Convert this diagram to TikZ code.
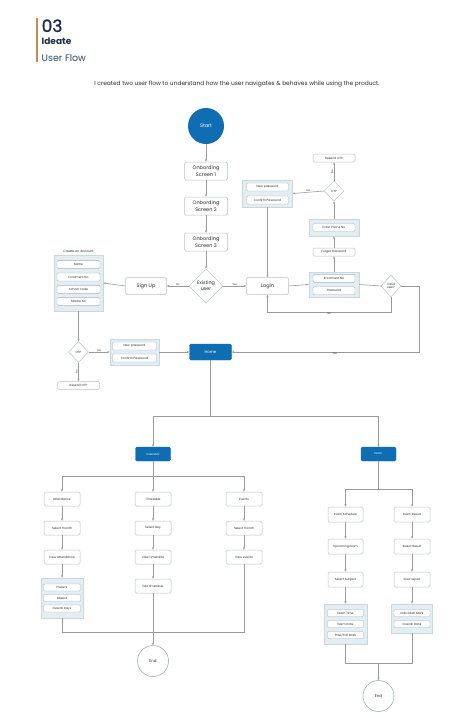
\documentclass[tikz,border=0pt]{standalone}
\usepackage{fontspec}
\setmainfont{Poppins}
\newfontfamily\medfont{Poppins}[FakeBold=1.2]
\usetikzlibrary{shapes.geometric,arrows.meta}
\definecolor{bluec}{HTML}{0F6DB3}
\definecolor{boxc}{HTML}{B5C3CC}
\definecolor{panelf}{HTML}{E4EDF1}
\definecolor{panelb}{HTML}{C9D8DF}
\definecolor{innerb}{HTML}{9FB6C2}
\definecolor{linec}{HTML}{9A9A9A}
\definecolor{txtc}{HTML}{2A2A2A}
\definecolor{navy}{HTML}{1C2E46}
\definecolor{navyb}{HTML}{2B4C6F}
\definecolor{orangec}{HTML}{C98A4B}
\definecolor{endc}{HTML}{8FA7B8}
\begin{document}
\begin{tikzpicture}[x=1pt,y=-1pt,
  box/.style={draw=boxc, fill=white, rounded corners=1.5pt, line width=0.5pt, inner sep=0pt, text=txtc, align=center},
  big/.style={box, minimum width=43pt, minimum height=18pt, font=\fontsize{5}{6.5}\selectfont},
  col/.style={box, minimum width=36pt, minimum height=14pt, font=\fontsize{3}{3.6}\selectfont},
  smallbox/.style={box, minimum width=42pt, minimum height=8pt, font=\fontsize{3}{3.6}\selectfont},
  panel/.style={draw=panelb, fill=panelf, line width=0.5pt, inner sep=0pt},
  innerbox/.style={draw=innerb, fill=white, rounded corners=1.2pt, line width=0.4pt, inner sep=0pt, minimum height=8pt, font=\fontsize{3}{3.6}\selectfont, text=txtc},
  dia/.style={diamond, draw=boxc, fill=white, line width=0.5pt, inner sep=0pt, align=center, text=txtc},
  bluebox/.style={fill=bluec, draw=bluec, rounded corners=1.5pt, text=white, inner sep=0pt},
  ln/.style={draw=linec, line width=0.6pt},
  arr/.style={ln, -{Stealth[length=2.5pt,width=2pt]}},
  lbl/.style={font=\fontsize{2.5}{3}\selectfont, text=txtc, inner sep=0.5pt},
  endc/.style={circle, draw=endc, fill=white, line width=0.5pt, minimum size=31pt, inner sep=0pt, text=txtc, font=\fontsize{4}{5}\selectfont}
]
\useasboundingbox (0,0) rectangle (474,718);
\fill[white] (0,0) rectangle (474,718);

% header
\fill[orangec] (36,18) rectangle (37.5,62);
\node[anchor=base west, font=\fontsize{17}{17}\medfont, text=navy, inner sep=0] (num) at (41.5,32) {03};
\node[anchor=base west, font=\fontsize{9}{9}\selectfont\bfseries, text=navy, inner sep=0] (ideate) at (41.5,44.5) {Ideate};
\node[anchor=base west, font=\fontsize{9.5}{9.5}\selectfont, text=navyb, inner sep=0] (uflow) at (41.5,61) {User Flow};
\node[font=\fontsize{5.9}{7}\selectfont, text=txtc] (sub) at (237,84) {I created two user flow to understand how the user navigates \& behaves while using the product.};

% onboarding
\node[circle, fill=bluec, minimum size=36pt, inner sep=0pt, text=white, font=\fontsize{5}{6}\selectfont] (start) at (206,126) {Start};
\node[big] (os1) at (206,171) {Onbording\\Screen 1};
\node[big] (os2) at (206,206) {Onbording\\Screen 2};
\node[big] (os3) at (206,242) {Onbording\\Screen 3};
\node[dia, minimum width=34pt, minimum height=34pt, font=\fontsize{4.8}{6.2}\selectfont] (eu) at (206,286) {Existing\\user};
\node[big, minimum width=41pt, minimum height=17pt] (signup) at (146,286) {Sign Up};
\node[big, minimum width=42pt, minimum height=17pt] (login) at (267.5,286) {Login};

% create account
\node[panel, minimum width=49pt, minimum height=56pt] (acct) at (78.5,283) {};
\node[lbl, font=\fontsize{3.2}{4}\selectfont] (acctl) at (78.5,251) {Create an Account};
\node[innerbox, minimum width=43pt] (name) at (78.5,264.6) {Name};
\node[innerbox, minimum width=43pt] (enr1) at (78.5,277) {Enrolment No};
\node[innerbox, minimum width=43pt] (school) at (78.5,289.3) {School Code};
\node[innerbox, minimum width=43pt] (mobile) at (78.5,301.6) {Mobile No};

\node[dia, minimum width=20pt, minimum height=21pt, font=\fontsize{3}{3.6}\selectfont] (otp1) at (78.5,352) {OTP};
\node[smallbox] (resend1) at (78.5,385.5) {Resend OTP};
\node[panel, minimum width=49pt, minimum height=26pt] (np1) at (134.5,352) {};
\node[innerbox, minimum width=44pt] (np1a) at (134.5,346) {New password};
\node[innerbox, minimum width=44pt] (np1b) at (134.5,358) {Confirm Password};
\node[bluebox, minimum width=42pt, minimum height=16pt, font=\fontsize{4}{5}\selectfont] (home) at (210.5,352) {Home};

% right side
\node[smallbox] (resend2) at (334,158) {Resend OTP};
\node[dia, minimum width=20pt, minimum height=20pt, font=\fontsize{3}{3.6}\selectfont] (otp2) at (334,191) {OTP};
\node[panel, minimum width=50pt, minimum height=27pt] (np2) at (267.5,193.5) {};
\node[innerbox, minimum width=42pt] (np2a) at (267.5,187) {New password};
\node[innerbox, minimum width=42pt] (np2b) at (267.5,200) {Confirm Password};
\node[panel, minimum width=50pt, minimum height=17pt] (phone) at (334,227.5) {};
\node[innerbox, minimum width=42pt] (phonea) at (334,227.5) {Enter Phone No};
\node[smallbox] (forget) at (334,252) {Forget Password};
\node[panel, minimum width=50pt, minimum height=25pt] (enr) at (334,284.5) {};
\node[innerbox, minimum width=42pt] (enra) at (334,278.3) {Enrolment No};
\node[innerbox, minimum width=42pt] (enrb) at (334,290.7) {Password};
\node[dia, minimum width=20pt, minimum height=22pt, font=\fontsize{3}{3.6}\selectfont] (valid) at (391,286) {Valid\\user?};

% connectors top
\draw[arr] (start) -- (os1);
\draw[arr] (os1) -- (os2);
\draw[arr] (os2) -- (os3);
\draw[arr] (os3) -- (eu);
\draw[arr] (eu.west) -- node[lbl, above] {No} (signup.east);
\draw[arr] (signup.west) -- (acct.east);
\draw[arr] (acct.south) -- (otp1.north);
\draw[arr] (otp1.east) -- node[lbl, above] {Yes} (np1.west);
\draw[arr] (otp1.south) -- node[lbl, rotate=90, anchor=south] {No} (resend1.north);
\draw[arr] (np1.east) -- (home.west);
\draw[arr] (eu.east) -- node[lbl, above] {Yes} (login.west);
\draw[arr] (login.east) -- (enr.west);
\draw[ln] (enr.east) -- (valid.west);
\coordinate (vb) at (391,312);
\draw[arr] (valid.south) -- (vb) -| node[lbl, pos=0.25, below] {No} (login.south);
\coordinate (vr) at (419,352);
\draw[arr] (valid.east) -| (vr) -- node[lbl, pos=0.45, below] {Yes} (home.east);
\draw[arr] (enr.north) -- (forget.south);
\draw[arr] (forget.north) -- (phone.south);
\draw[arr] (phone.north) -- (otp2.south);
\draw[arr] (otp2.north) -- node[lbl, rotate=90, anchor=south] {No} (resend2.south);
\draw[arr] (otp2.west) -- node[lbl, above] {Yes} (np2.east);
\draw[arr] (np2.south) -- (login.north);

% second level
\node[bluebox, minimum width=35pt, minimum height=14pt, font=\fontsize{2.8}{3.4}\selectfont] (cal) at (153,454) {Calendar};
\node[bluebox, minimum width=35pt, minimum height=14pt, font=\fontsize{2.8}{3.4}\selectfont] (exam) at (378.5,454) {Exam};
\coordinate (hb) at (210.5,416);
\draw[ln] (home.south) -- (hb);
\draw[arr] (hb) -| (cal.north);
\draw[arr] (hb) -| (exam.north);

% calendar columns
\node[col] (att) at (62,499) {Attendance};
\node[col] (sm1) at (62,528) {Select month};
\node[col] (va) at (62,557) {View attendance};
\node[panel, minimum width=42pt, minimum height=40pt] (attp) at (62,598) {};
\node[innerbox, minimum width=37pt, minimum height=7pt] (pres) at (62,587.5) {Present};
\node[innerbox, minimum width=37pt, minimum height=7pt] (abs) at (62,598) {Absent};
\node[innerbox, minimum width=37pt, minimum height=7pt] (odays) at (62,608.5) {Overall Days};

\node[col] (tt) at (153,499) {Timetable};
\node[col] (sd) at (153,528) {Select day};
\node[col] (vt) at (153,557) {View timetable};
\node[col] (et) at (153,586) {Edit timetable};

\node[col] (ev) at (244,499) {Events};
\node[col] (sm2) at (244,528) {Select month};
\node[col] (ve) at (244,557) {View events};

\coordinate (cb) at (153,476);
\draw[ln] (cal.south) -- (cb);
\draw[arr] (cb) -| (att.north);
\draw[arr] (cb) -| (ev.north);
\draw[arr] (cb) -- (tt.north);
\draw[arr] (att) -- (sm1);
\draw[arr] (sm1) -- (va);
\draw[arr] (va) -- (attp);
\draw[arr] (tt) -- (sd);
\draw[arr] (sd) -- (vt);
\draw[arr] (vt) -- (et);
\draw[arr] (ev) -- (sm2);
\draw[arr] (sm2) -- (ve);

\node[endc] (end1) at (153,661) {End};
\coordinate (cj) at (153,632);
\draw[ln] (attp.south) |- (cj);
\draw[ln] (ve.south) |- (cj);
\draw[arr] (et.south) -- (end1.north);

% exam columns
\node[col, minimum width=35pt, minimum height=15pt] (es) at (345.5,514.5) {Exam Schedule};
\node[col, minimum width=35pt, minimum height=15pt] (ue) at (345.5,546.5) {Upcoming Exam};
\node[col, minimum width=35pt, minimum height=15pt] (ss) at (345.5,579.5) {Select Subject};
\node[col, minimum width=36pt, minimum height=15pt] (er) at (412,514.5) {Exam Result};
\node[col, minimum width=36pt, minimum height=15pt] (sr) at (412,546.5) {Select Result};
\node[col, minimum width=36pt, minimum height=15pt] (vr2) at (412,579.5) {View report};

\node[panel, minimum width=43pt, minimum height=40pt] (exp) at (345.5,624) {};
\node[innerbox, minimum width=36pt, minimum height=7pt] (etime) at (345.5,613) {Exam Time};
\node[innerbox, minimum width=36pt, minimum height=7pt] (edate) at (345.5,624) {Exam Date};
\node[innerbox, minimum width=36pt, minimum height=7pt] (pf) at (345.5,635) {Pass/Fail Mark};
\node[panel, minimum width=41pt, minimum height=29pt] (resp) at (412,618.5) {};
\node[innerbox, minimum width=36pt, minimum height=7pt] (imark) at (412,613) {Individual Mark};
\node[innerbox, minimum width=36pt, minimum height=7pt] (orank) at (412,624) {Overall Rank};

\coordinate (eb) at (378.5,489);
\draw[ln] (exam.south) -- (eb);
\draw[arr] (eb) -| (es.north);
\draw[arr] (eb) -| (er.north);
\draw[arr] (es) -- (ue);
\draw[arr] (ue) -- (ss);
\draw[arr] (ss) -- (exp);
\draw[arr] (er) -- (sr);
\draw[arr] (sr) -- (vr2);
\draw[arr] (vr2) -- (resp);

\node[endc] (end2) at (378.5,696) {End};
\coordinate (ej) at (378.5,663);
\draw[ln] (exp.south) |- (ej);
\draw[ln] (resp.south) |- (ej);
\draw[arr] (ej) -- (end2.north);
\end{tikzpicture}
\end{document}
